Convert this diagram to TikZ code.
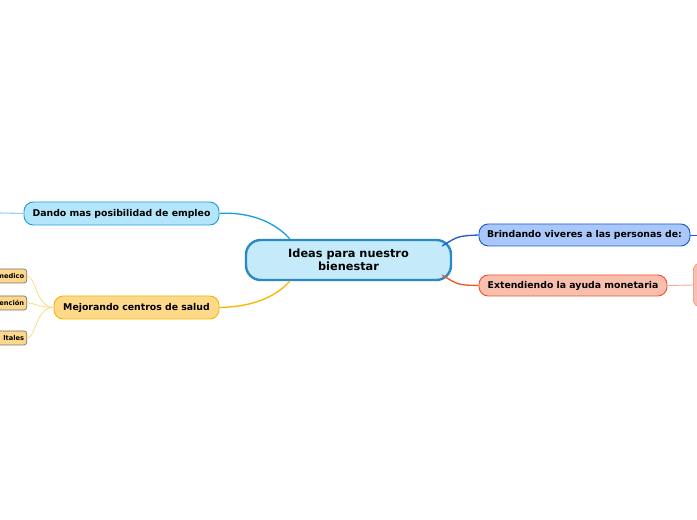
\documentclass[tikz,border=0pt]{standalone}
\usepackage{fontspec}
\setmainfont{DejaVu Sans}
\begin{document}
\begin{tikzpicture}[x=0.75pt,y=-0.75pt,
  box/.style={rounded corners=7pt,font=\bfseries\fontsize{7}{8}\selectfont,inner sep=0pt,line width=0.7pt},
  leaf/.style={rounded corners=2pt,font=\bfseries\fontsize{5}{6}\selectfont,draw=black!55,line width=0.5pt,minimum width=50*0.75pt,minimum height=14*0.75pt,anchor=east,align=right,text width=45*0.75pt,inner sep=1.5pt}]
\definecolor{cfill}{HTML}{C5EBFB}\definecolor{cdraw}{HTML}{2A8AC8}
\definecolor{dfill}{HTML}{B3E5FB}\definecolor{ddraw}{HTML}{1AA0E0}
\definecolor{mfill}{HTML}{FED98A}\definecolor{mdraw}{HTML}{F5B800}
\definecolor{bfill}{HTML}{A9C8F9}\definecolor{bdraw}{HTML}{1F5AD0}
\definecolor{efill}{HTML}{F9BFAE}\definecolor{edraw}{HTML}{F0562A}
\definecolor{lfill}{HTML}{FDD88A}
\useasboundingbox (0,0) rectangle (697,520);
\node[box,draw=cdraw,fill=cfill,line width=1.8pt,rounded corners=11pt,minimum width=205*0.75pt,minimum height=40*0.75pt,align=center,font=\bfseries\fontsize{8.5}{10}\selectfont] (c) at (348.5,260) {Ideas para nuestro\\bienestar};
\node[box,draw=ddraw,fill=dfill,minimum width=195*0.75pt,minimum height=23*0.75pt] (d) at (121.5,213.5) {Dando mas posibilidad de empleo};
\node[box,draw=mdraw,fill=mfill,minimum width=165*0.75pt,minimum height=23*0.75pt] (m) at (136.5,307.5) {Mejorando centros de salud};
\node[box,draw=bdraw,fill=bfill,minimum width=211*0.75pt,minimum height=22*0.75pt] (b) at (584.5,235) {Brindando viveres a las personas de:};
\node[box,draw=edraw,fill=efill,minimum width=188*0.75pt,minimum height=21*0.75pt] (e) at (573,285.5) {Extendiendo la ayuda monetaria};
\node[leaf,fill=lfill] (l1) at (27,276) {medico};
\node[leaf,fill=lfill] (l2) at (27,303) {ención};
\node[leaf,fill=lfill] (l3) at (27,338) {ltales};
\node[draw=edraw!70,fill=efill,rounded corners=6pt,minimum width=30*0.75pt,minimum height=45*0.75pt,anchor=west] (e2) at (693,285) {};
\coordinate (dl) at (0,213);
\coordinate (br) at (697,235);
\draw[ddraw,line width=1pt] ([xshift=45*0.75pt]c.north west) .. controls +(-20,-22) and (240,212) .. (d.east);
\draw[mdraw,line width=1pt] ([xshift=45*0.75pt]c.south west) .. controls +(-20,22) and (240,307) .. (m.east);
\draw[bdraw,line width=1pt] ([xshift=-10*0.75pt,yshift=14*0.75pt]c.east) .. controls (458,236) .. (b.west);
\draw[edraw,line width=1pt] ([xshift=-10*0.75pt,yshift=-15*0.75pt]c.east) .. controls (458,285) .. (e.west);
\draw[ddraw!50,line width=0.8pt] (dl) -- (d.west);
\draw[bdraw,line width=0.7pt] (b.east) -- (br);
\draw[edraw!50,line width=0.7pt] (e.east) -- (e2.west);
\draw[mdraw!50,line width=0.6pt] (l1.east) .. controls (36,276) and (36,307) .. (m.west);
\draw[mdraw!50,line width=0.6pt] (l2.east) .. controls (36,303) and (36,307) .. (m.west);
\draw[mdraw!50,line width=0.6pt] (l3.east) .. controls (36,338) and (36,307) .. (m.west);
\end{tikzpicture}
\end{document}
